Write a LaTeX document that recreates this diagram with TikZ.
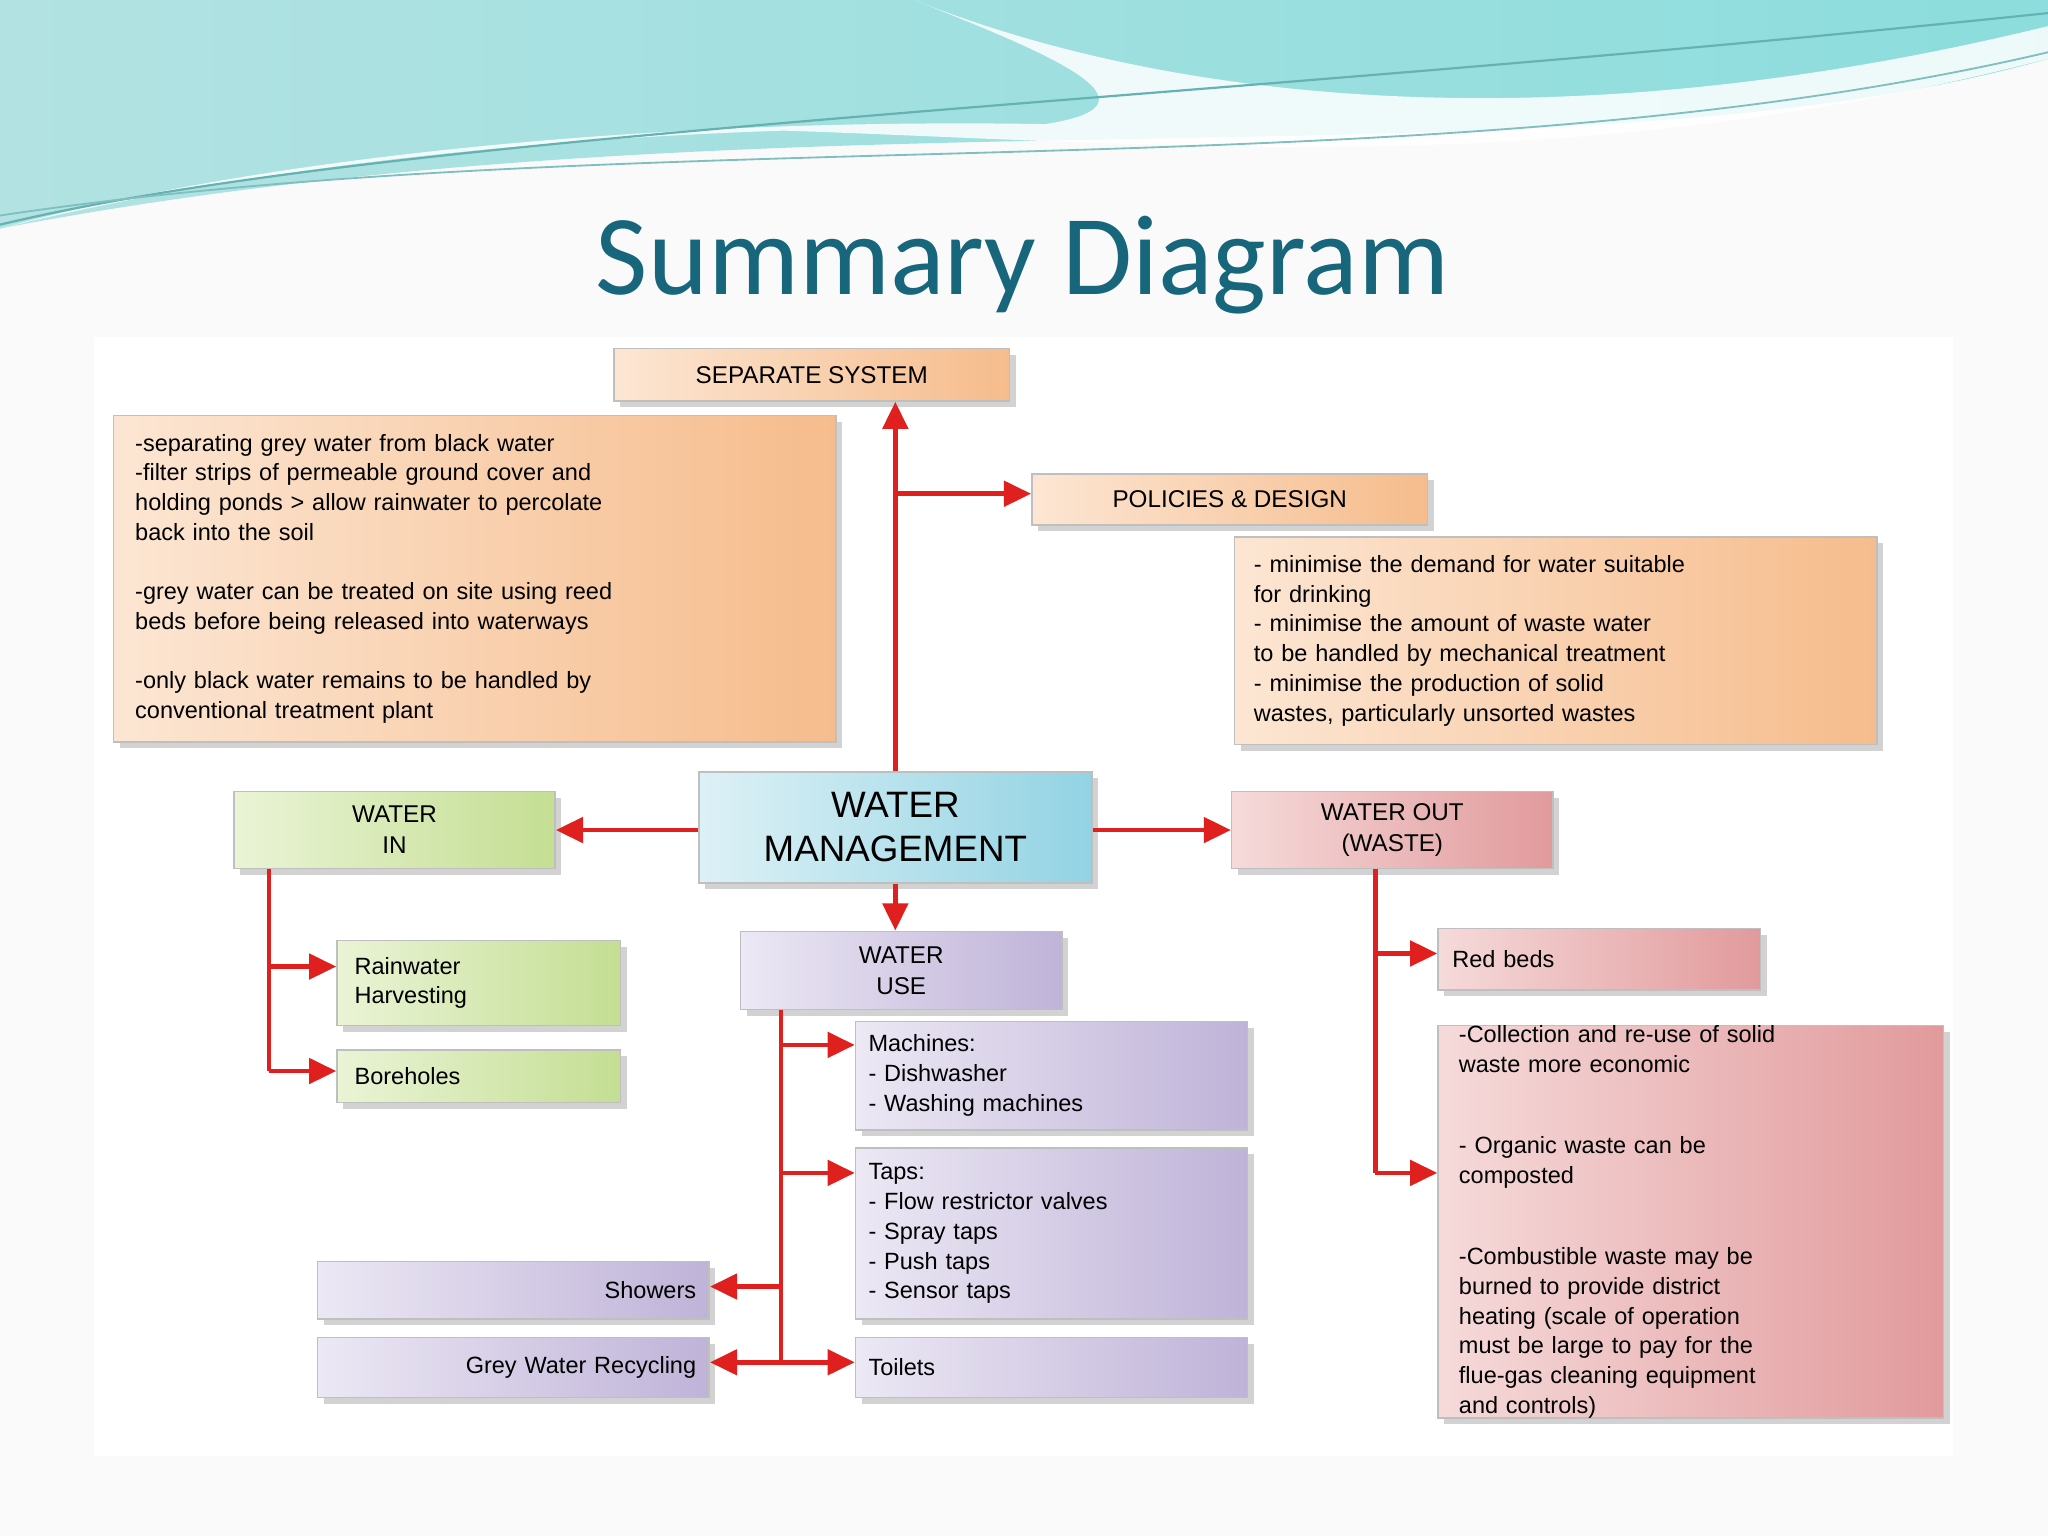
\documentclass[tikz,border=0pt]{standalone}
\usepackage{fontspec}
\setmainfont{Liberation Sans}
\newfontfamily\titlefont{Carlito}
\usetikzlibrary{arrows.meta,shadows}
\definecolor{titlec}{HTML}{17667C}
\definecolor{arr}{HTML}{E0201E}
\definecolor{pk1}{HTML}{FCE6D3}\definecolor{pk2}{HTML}{F6BC8C}
\definecolor{bl1}{HTML}{DDF1F6}\definecolor{bl2}{HTML}{92D3E3}
\definecolor{gr1}{HTML}{EAF4D6}\definecolor{gr2}{HTML}{C4DE93}
\definecolor{rd1}{HTML}{F6DADA}\definecolor{rd2}{HTML}{E19A9C}
\definecolor{pu1}{HTML}{ECE8F4}\definecolor{pu2}{HTML}{BFB3D8}
\tikzset{
 bx/.style 2 args={minimum width=#1*0.0125cm, minimum height=#2*0.0125cm, inner sep=0pt, draw=black!25, drop shadow={shadow xshift=0.6mm, shadow yshift=-0.6mm, opacity=.35}},
 peach/.style={left color=pk1, right color=pk2},
 blu/.style={left color=bl1, right color=bl2},
 grn/.style={left color=gr1, right color=gr2},
 pnk/.style={left color=rd1, right color=rd2},
 pur/.style={left color=pu1, right color=pu2},
 tx/.style={font=\fontsize{6.4}{8.1}\selectfont, align=left},
 hd/.style={font=\fontsize{6.6}{8.4}\selectfont, align=center},
 ar/.style={draw=arr, line width=1.3pt, -{Triangle[length=2.6mm,width=2.4mm]}},
 ln/.style={draw=arr, line width=1.3pt}
}
\begin{document}
\begin{tikzpicture}[x=0.0125cm,y=-0.0125cm]
\useasboundingbox (0,0) rectangle (1568,1176);
\fill[black!2] (0,0) rectangle (1568,1176);
% top wave
\shade[left color=cyan!25!teal!30, right color=cyan!40!teal!45] (0,0) -- (1568,0) -- (1568,45) .. controls (1200,150) and (600,60) .. (0,175) -- cycle;
\fill[white,opacity=.85] (700,0) .. controls (900,80) and (1200,110) .. (1568,20) -- (1568,45) .. controls (1200,140) and (900,110) .. (600,100) .. controls (300,110) and (100,150) .. (0,175) .. controls (200,120) and (500,90) .. (800,95) .. controls (900,80) and (800,40) .. (700,0) -- cycle;
\draw[teal!60, line width=0.6pt] (0,172) .. controls (300,100) and (900,80) .. (1568,10);
\draw[teal!50, line width=0.5pt] (0,165) .. controls (500,90) and (1100,150) .. (1568,40);
\node[font=\titlefont\fontsize{31}{36}\selectfont, text=titlec] (title) at (783,203) {Summary Diagram};
\fill[white] (72,258) rectangle (1495,1115);
% nodes
\node[bx={303}{40}, peach, hd] (sep) at (621.5,287) {SEPARATE SYSTEM};
\node[bx={553}{250}, peach, tx, text width=520*0.0125cm] (sept) at (363.5,443) {-separating grey water from black water\\-filter strips of permeable ground cover and\\holding ponds > allow rainwater to percolate\\back into the soil\\[8pt]-grey water can be treated on site using reed\\beds before being released into waterways\\[8pt]-only black water remains to be handled by\\conventional treatment plant};
\node[bx={303}{39}, peach, hd] (pol) at (941.5,382.5) {POLICIES \& DESIGN};
\node[bx={492}{159}, peach, tx, text width=462*0.0125cm] (polt) at (1191,490.5) {- minimise the demand for water suitable\\for drinking\\- minimise the amount of waste water\\to be handled by mechanical treatment\\- minimise the production of solid\\wastes, particularly unsorted wastes};
\node[bx={301}{85}, blu, font=\fontsize{10}{12}\selectfont, align=center] (wm) at (685.5,633.5) {WATER\\MANAGEMENT};
\node[bx={246}{59}, grn, hd] (win) at (302,635.5) {WATER\\IN};
\node[bx={246}{59}, pnk, hd] (wout) at (1066,635.5) {WATER OUT\\(WASTE)};
\node[bx={217}{65}, grn, tx, text width=190*0.0125cm] (rain) at (366.5,752.5) {Rainwater\\Harvesting};
\node[bx={217}{40}, grn, tx, text width=190*0.0125cm] (bore) at (366.5,824) {Boreholes};
\node[bx={246}{60}, pur, hd] (wuse) at (690,743) {WATER\\USE};
\node[bx={300}{83}, pur, tx, text width=280*0.0125cm] (mach) at (805,823.5) {Machines:\\- Dishwasher\\- Washing machines};
\node[bx={300}{131}, pur, tx, text width=280*0.0125cm] (taps) at (805,944.5) {Taps:\\ - Flow restrictor valves\\ - Spray taps\\ - Push taps\\ - Sensor taps};
\node[bx={300}{44}, pur, tx, text width=280*0.0125cm, align=right] (show) at (393,988) {Showers};
\node[bx={300}{46}, pur, tx, text width=280*0.0125cm, align=right] (grey) at (393,1047) {Grey Water Recycling};
\node[bx={300}{46}, pur, tx, text width=280*0.0125cm] (toil) at (805,1047) {Toilets};
\node[bx={247}{47}, pnk, tx, text width=225*0.0125cm] (red) at (1224.5,734.5) {Red beds};
\node[bx={387}{299}, pnk, tx, text width=355*0.0125cm] (redt) at (1294.5,935.5) {-Collection and re-use of solid\\waste more economic\\[14pt]- Organic waste can be\\composted\\[14pt]-Combustible waste may be\\burned to provide district\\heating (scale of operation\\must be large to pay for the\\flue-gas cleaning equipment\\and controls)};
% connectors
\path[ar] (wm.north) -- (wm.north|-sep.south);
\coordinate (jp) at (686,378);
\path[ar] (jp) -- (pol.west|-jp);
\path[ar] (wm.west|-win.east) -- (win.east);
\path[ar] (wm.east|-wout.west) -- (wout.west);
\path[ar] (wm.south) -- (wm.south|-wuse.north);
% water in
\coordinate (wi0) at (206,665); \coordinate (wi1) at (206,740); \coordinate (wi2) at (206,820);
\path[ln] (wi0) -- (wi2);
\path[ar] (wi1) -- (rain.west|-wi1);
\path[ar] (wi2) -- (bore.west|-wi2);
% water use
\coordinate (u0) at (598,773); \coordinate (u1) at (598,800); \coordinate (u2) at (598,898);
\coordinate (u3) at (598,985); \coordinate (u4) at (598,1043);
\path[ln] (u0) -- (u4);
\path[ar] (u1) -- (mach.west|-u1);
\path[ar] (u2) -- (taps.west|-u2);
\path[ar] (u3) -- (show.east|-u3);
\path[ar] (u4) -- (grey.east|-u4);
\path[ar] (u4) -- (toil.west|-u4);
% water out
\coordinate (o0) at (1053,665); \coordinate (o1) at (1053,730); \coordinate (o2) at (1053,898);
\path[ln] (o0) -- (o2);
\path[ar] (o1) -- (red.west|-o1);
\path[ar] (o2) -- (redt.west|-o2);
\end{tikzpicture}
\end{document}
